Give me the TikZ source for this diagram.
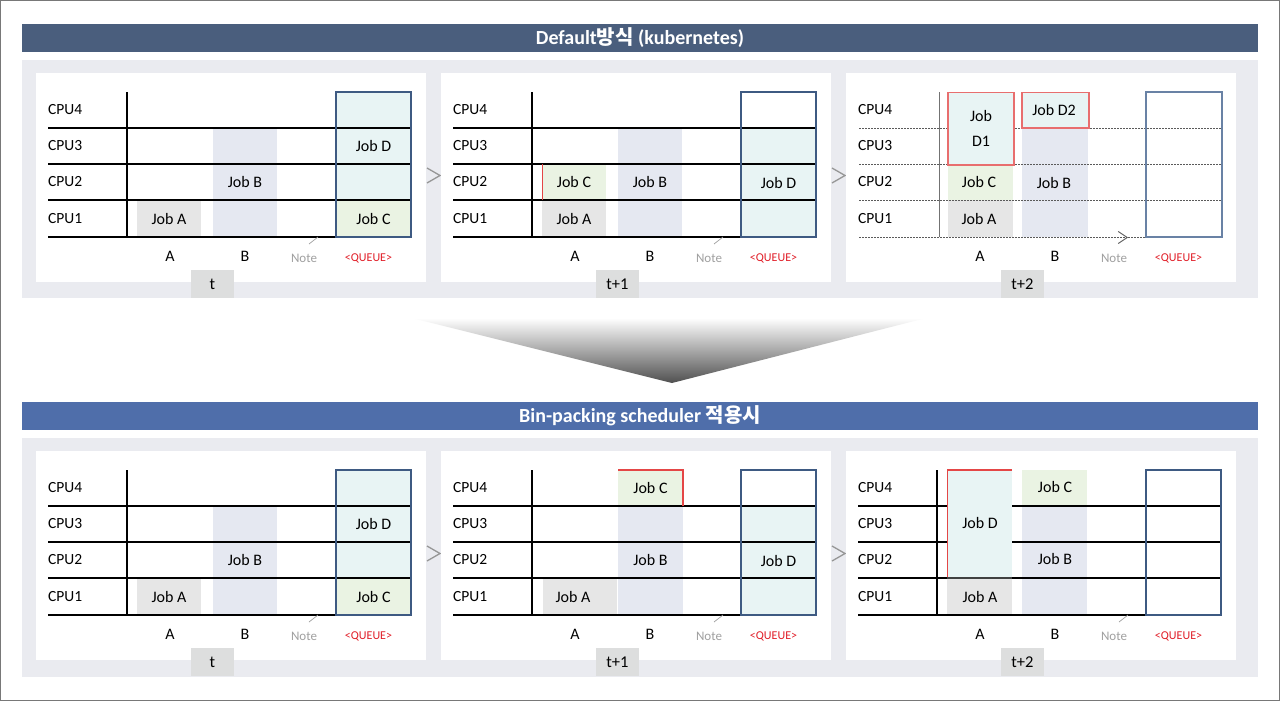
\documentclass[tikz,border=0pt]{standalone}
\usepackage{fontspec}
\setmainfont{Carlito}
\newfontfamily\kr{Noto Sans CJK KR}
\usetikzlibrary{arrows.meta}
\definecolor{hdrA}{RGB}{74,94,125}
\definecolor{hdrB}{RGB}{79,110,170}
\definecolor{panelbg}{RGB}{234,235,240}
\definecolor{tlbl}{RGB}{221,222,222}
\definecolor{jobA}{RGB}{230,230,230}
\definecolor{jobB}{RGB}{229,232,241}
\definecolor{jobC}{RGB}{234,243,227}
\definecolor{jobD}{RGB}{232,244,244}
\definecolor{qborder}{RGB}{62,90,130}
\definecolor{qborderlt}{RGB}{105,130,165}
\definecolor{qred}{RGB}{225,30,40}
\definecolor{ered}{RGB}{228,70,70}
\definecolor{eredlt}{RGB}{232,110,110}
\definecolor{notegray}{RGB}{160,160,160}
\definecolor{chevc}{RGB}{150,150,150}
\definecolor{frameg}{RGB}{120,120,120}
\definecolor{dashg}{RGB}{90,90,90}
\tikzset{
 cpulbl/.style={anchor=west, inner sep=0pt, font=\fontsize{15.5}{16}\selectfont},
 joblbl/.style={inner sep=0pt, font=\fontsize{16}{18}\selectfont},
 axlbl/.style={inner sep=0pt, font=\fontsize{16}{18}\selectfont},
 notelbl/.style={inner sep=0pt, text=notegray, font=\fontsize{13}{14}\selectfont},
 qlbl/.style={inner sep=0pt, text=qred, font=\fontsize{12}{14}\selectfont},
 timebox/.style={fill=tlbl, minimum width=43pt, minimum height=28pt, inner sep=0pt, font=\fontsize{16.5}{18}\selectfont},
 hdr/.style={minimum width=1236pt, minimum height=28pt, inner sep=0pt, text=white, font=\fontsize{20}{22}\selectfont\bfseries},
 gridline/.style={line width=1.3pt, black},
 axisline/.style={line width=2.2pt, black},
 qbox/.style={draw=qborder, line width=1.5pt},
 qboxlt/.style={draw=qborderlt, line width=1.2pt},
 dashline/.style={dashg, line width=0.9pt, dash pattern=on 2pt off 1pt},
 noteline/.style={notegray, line width=0.7pt},
 redline/.style={ered, line width=1.4pt},
 redbox/.style={draw=eredlt, line width=1.1pt, fill=jobD},
 chev/.style={chevc, line width=1.3pt},
 darkedge/.style={black!75, line width=2.2pt}
}
\newcommand\panelframe[4]{%
 \begin{scope}[shift={(#1,#2)}]
 \fill[white] (36,73) rectangle (426,282);
 \node[cpulbl] (#3c4) at (48,110) {CPU4};
 \node[cpulbl] (#3c3) at (48,146) {CPU3};
 \node[cpulbl] (#3c2) at (48,182) {CPU2};
 \node[cpulbl] (#3c1) at (48,218.5) {CPU1};
 \node[axlbl] (#3la) at (170,256) {A};
 \node[axlbl] (#3lb) at (245,256) {B};
 \node[notelbl] (#3nt) at (304,258) {Note};
 \node[qlbl] (#3ql) at (368.5,258) {<QUEUE>};
 \node[timebox] (#3tm) at (212.5,284) {#4};
 \end{scope}}
\newcommand\solidgrid[3]{%
 \begin{scope}[shift={(#1,#2)}]
 \draw[gridline] (48,128) -- (411,128) (48,164) -- (411,164) (48,200) -- (411,200);
 \draw[gridline] (127,92) -- (127,237);
 \draw[axisline] (48,237) -- (336,237);
 \coordinate (#3ns) at (309,244);
 \coordinate (#3ne) at (318,237);
 \draw[noteline] (#3ns) -- (#3ne);
 \end{scope}}
\begin{document}
\begin{tikzpicture}[x=1pt,y=-1pt]
\useasboundingbox (0,0) rectangle (1280,701);
\fill[white] (0,0) rectangle (1280,701);
\draw[frameg, line width=1pt] (0.5,0.5) rectangle (1279.5,700.5);
% headers and background panels
\node[hdr, fill=hdrA] (hdrtop) at (640,38) {Default{\kr\bfseries 방식} (kubernetes)};
\fill[panelbg] (22,60) rectangle (1258,298);
\node[hdr, fill=hdrB] (hdrbot) at (640,416) {Bin-packing scheduler {\kr\bfseries 적용시}};
\fill[panelbg] (22,438) rectangle (1258,677);
% funnel
\shade[top color=white, middle color={rgb,255:red,190;green,190;blue,192}, bottom color={rgb,255:red,80;green,80;blue,80}]
 (412,318) -- (926,318) -- (672,383) -- cycle;
% chevrons
\coordinate (cv1a) at (427,168); \coordinate (cv1b) at (440,175.5); \coordinate (cv1c) at (427,183);
\coordinate (cv2a) at (832,168); \coordinate (cv2b) at (845,175.5); \coordinate (cv2c) at (832,183);
\coordinate (cv3a) at (427,546); \coordinate (cv3b) at (440,553.5); \coordinate (cv3c) at (427,561);
\coordinate (cv4a) at (832,546); \coordinate (cv4b) at (845,553.5); \coordinate (cv4c) at (832,561);
\draw[chev] (cv1a) -- (cv1b) -- (cv1c);
\draw[chev] (cv2a) -- (cv2b) -- (cv2c);
\draw[chev] (cv3a) -- (cv3b) -- (cv3c);
\draw[chev] (cv4a) -- (cv4b) -- (cv4c);

% ===== Top panel 1 (t)
\panelframe{0}{0}{ta}{t}
\begin{scope}[shift={(0,0)}]
 \fill[jobA] (137,200) rectangle (201,237);
 \fill[jobB] (213,128) rectangle (277,237);
 \fill[jobD] (336,92) rectangle (411,200);
 \fill[jobC] (336,200) rectangle (411,237);
\end{scope}
\solidgrid{0}{0}{ta}
\begin{scope}[shift={(0,0)}]
 \draw[qbox] (336,92) rectangle (411,237);
 \node[joblbl] (taja) at (169,218.5) {Job A};
 \node[joblbl] (tajb) at (245,182) {Job B};
 \node[joblbl] (tajd) at (373.5,146) {Job D};
 \node[joblbl] (tajc) at (373.5,218.5) {Job C};
\end{scope}

% ===== Top panel 2 (t+1)
\panelframe{405}{0}{tb}{t+1}
\begin{scope}[shift={(405,0)}]
 \fill[jobC] (137,164) rectangle (201,200);
 \fill[jobA] (137,200) rectangle (201,237);
 \fill[jobB] (213,128) rectangle (277,237);
 \fill[jobD] (336,128) rectangle (411,237);
\end{scope}
\solidgrid{405}{0}{tb}
\begin{scope}[shift={(405,0)}]
 \draw[qbox] (336,92) rectangle (411,237);
 \draw[redline] (137.5,164) -- (137.5,200);
 \node[joblbl] (tbjc) at (169,182) {Job C};
 \node[joblbl] (tbja) at (169,218.5) {Job A};
 \node[joblbl] (tbjb) at (245,182) {Job B};
 \node[joblbl] (tbjd) at (373.5,182.5) {Job D};
\end{scope}

% ===== Top panel 3 (t+2)
\panelframe{810}{0}{tc}{t+2}
\begin{scope}[shift={(810,0)}]
 \fill[jobC] (138,164) rectangle (203,200);
 \fill[jobA] (138,200) rectangle (203,237);
 \fill[jobB] (212,128) rectangle (278,237);
 \draw[dashline] (49,128) -- (412,128) (49,164) -- (412,164) (49,200) -- (412,200);
 \draw[black!55, line width=0.9pt] (129,92) -- (129,237);
 \coordinate (tcax0) at (49,237.5);
 \coordinate (tcax1) at (318,237.5);
 \coordinate (tcax2) at (336,237.5);
 \draw[dashline, -{Straight Barb[length=9pt,width=12pt,line width=0.9pt]}] (tcax0) -- (tcax1);
 \draw[dashline] (tcax1) -- (tcax2);
 \draw[qboxlt] (336,92) rectangle (412,237);
 \draw[redbox] (138,92.5) rectangle (204,165);
 \draw[redbox] (212,92.5) rectangle (279,128);
 \node[joblbl, align=center, font=\fontsize{16}{25}\selectfont] (tcjd1) at (171,128) {Job\\D1};
 \node[joblbl] (tcjd2) at (244,110) {Job D2};
 \node[joblbl] (tcjc) at (169,182) {Job C};
 \node[joblbl] (tcja) at (169,218.5) {Job A};
 \node[joblbl] (tcjb) at (244,183) {Job B};
\end{scope}

% ===== Bottom panel 1 (t)
\panelframe{0}{378}{ba}{t}
\begin{scope}[shift={(0,378)}]
 \fill[jobA] (137,200) rectangle (201,237);
 \fill[jobB] (213,128) rectangle (277,237);
 \fill[jobD] (336,92) rectangle (411,200);
 \fill[jobC] (336,200) rectangle (411,237);
\end{scope}
\solidgrid{0}{378}{ba}
\begin{scope}[shift={(0,378)}]
 \draw[qbox] (336,92) rectangle (411,237);
 \node[joblbl] (baja) at (169,218.5) {Job A};
 \node[joblbl] (bajb) at (245,182) {Job B};
 \node[joblbl] (bajd) at (373.5,146) {Job D};
 \node[joblbl] (bajc) at (373.5,218.5) {Job C};
\end{scope}

% ===== Bottom panel 2 (t+1)
\panelframe{405}{378}{bb}{t+1}
\begin{scope}[shift={(405,378)}]
 \fill[jobC] (213,92) rectangle (278,128);
 \fill[jobB] (213,128) rectangle (278,237);
 \fill[jobA] (138,200) rectangle (212,237);
 \fill[jobD] (336,128) rectangle (411,237);
\end{scope}
\solidgrid{405}{378}{bb}
\begin{scope}[shift={(405,378)}]
 \draw[qbox] (336,92) rectangle (411,237);
 \draw[redline] (213,92) -- (278,92) -- (278,128);
 \node[joblbl] (bbjc) at (245.5,109.5) {Job C};
 \node[joblbl] (bbjb) at (245.5,182) {Job B};
 \node[joblbl] (bbja) at (168,218.5) {Job A};
 \node[joblbl] (bbjd) at (373.5,182.5) {Job D};
\end{scope}

% ===== Bottom panel 3 (t+2)
\panelframe{810}{378}{bc}{t+2}
\begin{scope}[shift={(810,378)}]
 \fill[jobA] (137,200) rectangle (202,237);
 \fill[jobC] (212,92) rectangle (277,128);
 \fill[jobB] (212,128) rectangle (277,237);
\end{scope}
\solidgrid{810}{378}{bc}
\begin{scope}[shift={(810,378)}]
 \draw[qbox] (336,92) rectangle (411,237);
 \fill[jobD] (137,92) rectangle (202,199);
 \draw[darkedge] (137,200) -- (202,200);
 \draw[redline] (137.5,199) -- (137.5,92) -- (202,92);
 \node[joblbl] (bcjd) at (170,145) {Job D};
 \node[joblbl] (bcja) at (170,218.5) {Job A};
 \node[joblbl] (bcjc) at (245,108.5) {Job C};
 \node[joblbl] (bcjb) at (245,181) {Job B};
\end{scope}
\end{tikzpicture}
\end{document}
